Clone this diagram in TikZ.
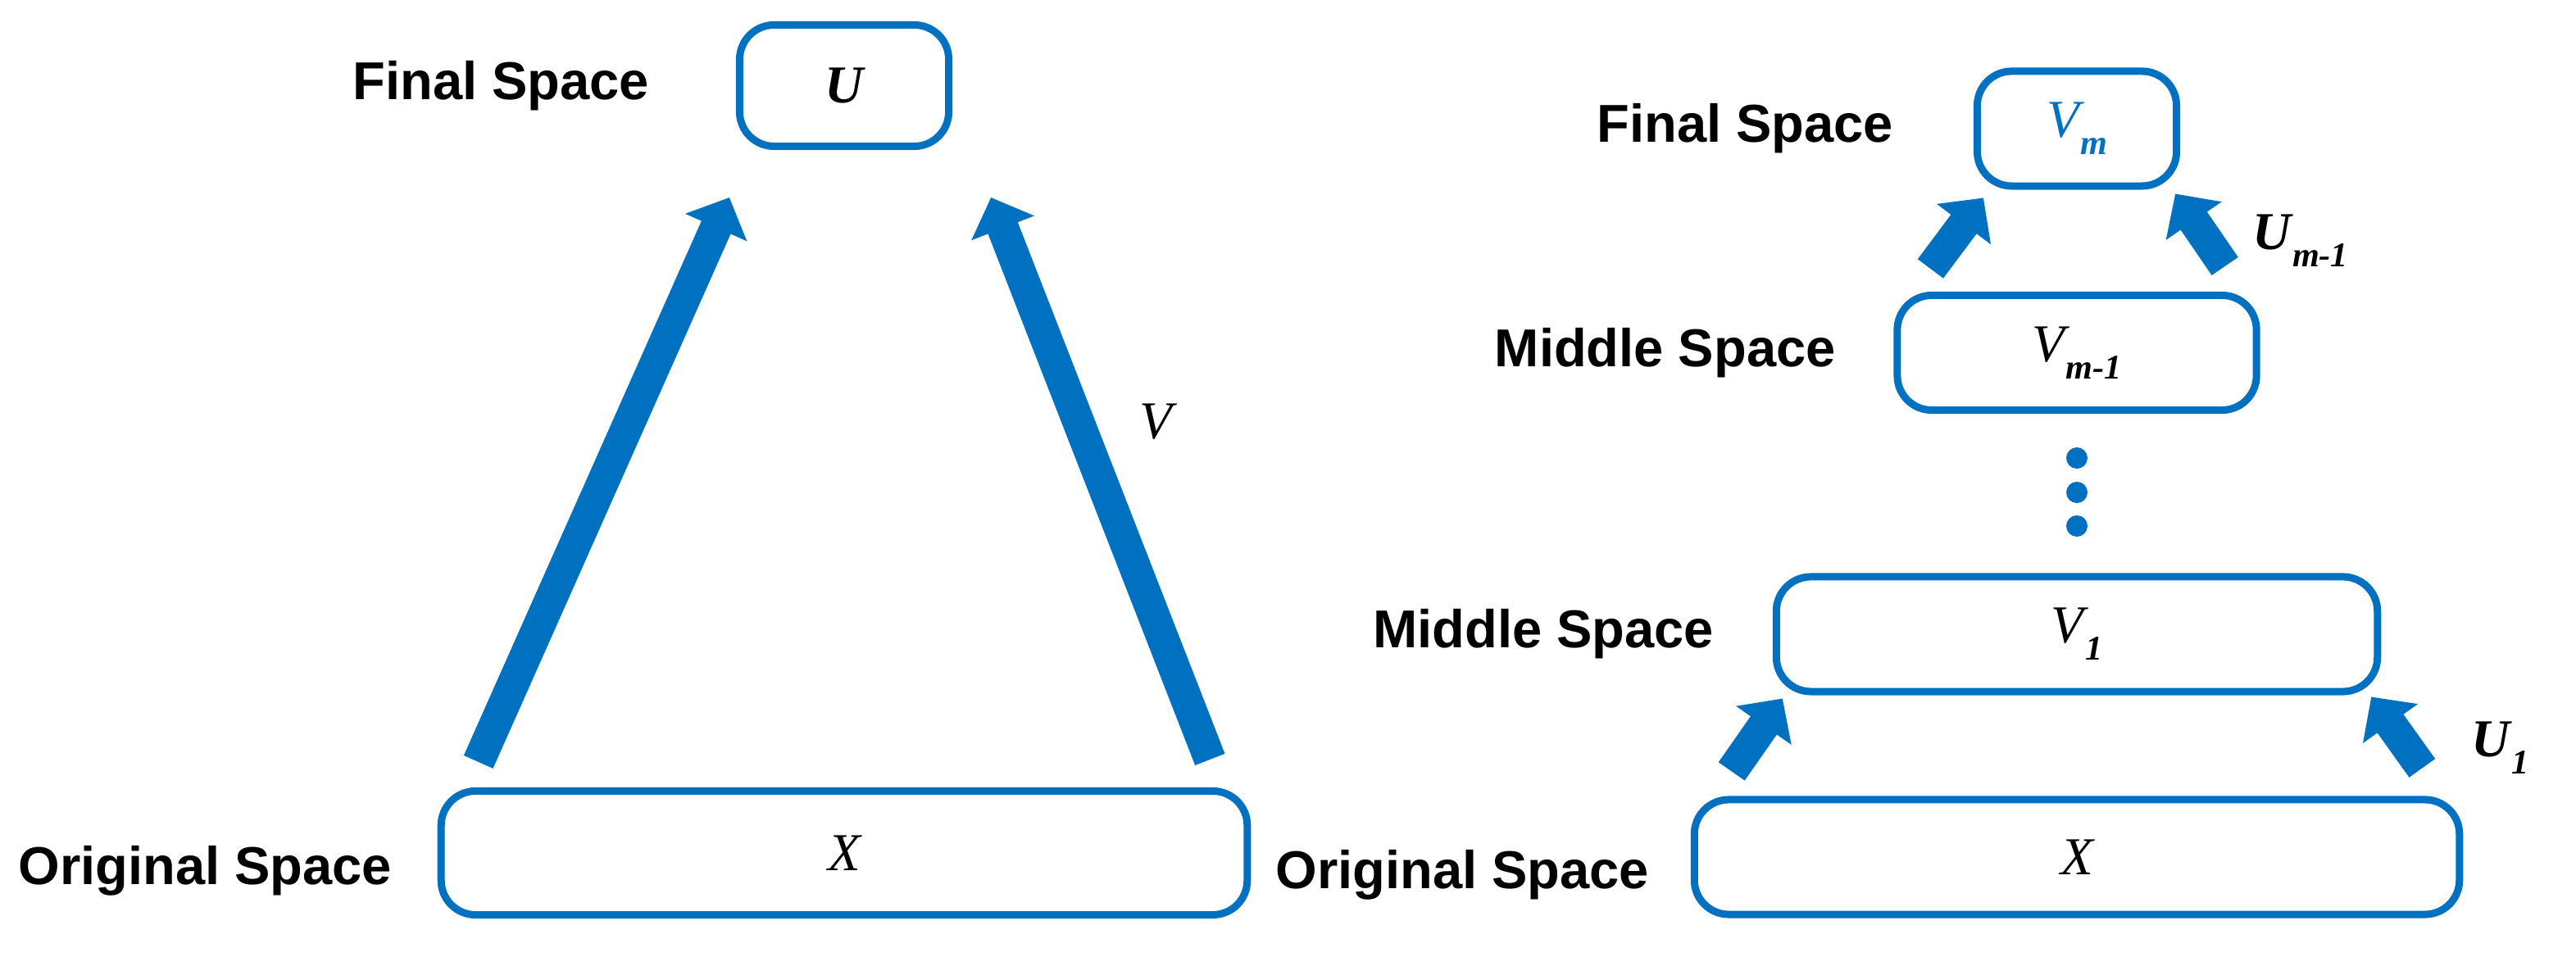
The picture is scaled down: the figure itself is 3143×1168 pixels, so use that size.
\documentclass[tikz,border=0pt]{standalone}
\usepackage{fontspec}
\setmainfont{Liberation Serif}
\newfontfamily\lblfont{Liberation Sans}
\usetikzlibrary{positioning,calc,arrows.meta}
\definecolor{spaceblue}{RGB}{0,112,192}
\newcommand{\mv}[1]{{\itshape #1}}
\newcommand{\mvb}[1]{{\bfseries\itshape #1}}
\newcommand{\lowsub}[1]{\kern0.02em\raisebox{-0.32em}{\fontsize{12}{12}\selectfont\bfseries\itshape #1}}
\tikzset{
spacebox/.style={draw=spaceblue, line width=0.09cm, rounded corners=0.42cm, minimum height=1.4cm, inner sep=0pt, font=\fontsize{18.5}{22}\selectfont},
spacename/.style={inner sep=0pt, font=\lblfont\bfseries\fontsize{18.5}{22}\selectfont},
maparrow/.style={spaceblue, line width=0.39cm, -{Triangle[length=0.4cm,width=0.8cm]}},
maplabel/.style={inner sep=0pt, anchor=base west, font=\fontsize{18.5}{22}\selectfont}
}
\begin{document}
\begin{tikzpicture}[x=0.01cm,y=-0.01cm]
\useasboundingbox (0,0) rectangle (3143,1168);
\node[spacebox, minimum width=2.55cm, minimum height=1.48cm] (U) at (1030,104.5) {\mvb{U}};
\node[spacebox, minimum width=9.83cm, minimum height=1.51cm] (X) at (1030,1041) {\mv{X}};
\node[spacename, left=1.05cm of U] (finalA) {Final Space};
\node[spacename, left=0.55cm of X, yshift=-0.22cm] (origA) {Original Space};
\draw[maparrow] ($(X.north west)+(50,-31)$) -- ($(U.south west)+(-8,58)$);
\draw[maparrow] ($(X.north east)+(-50,-34)$) -- ($(U.south east)+(47,58)$);
\node[maplabel] (labV) at (1390,536) {\mv{V}};

\node[spacebox, minimum width=2.43cm] (Vm) at (2534,157) {\textcolor{spaceblue}{\mv{V}\lowsub{m}}};
\node[spacebox, minimum width=4.38cm] (Vmm) at (2534,430.5) {\mv{V}\lowsub{m-1}};
\node[spacebox, minimum width=7.33cm] (V1) at (2534,774) {\mv{V}\lowsub{1}};
\node[spacebox, minimum width=9.33cm] (XB) at (2534,1046) {\mv{X}};
\node[spacename, left=0.97cm of Vm] (finalB) {Final Space};
\node[spacename, left=0.7cm of Vmm] (midB) {Middle Space};
\node[spacename, left=0.71cm of V1] (midA) {Middle Space};
\node[spacename, left=0.5cm of XB, yshift=-0.22cm] (origB) {Original Space};
\foreach \y in {559,601,642}{
	\fill[spaceblue] (2534,\y) circle (0.13cm);
}
\draw[maparrow] ($(Vmm.north west)+(45,-28)$) -- ($(Vm.south west)+(12,10)$);
\draw[maparrow] ($(Vmm.north east)+(-43,-31)$) -- ($(Vm.south east)+(-6,5)$);
\draw[maparrow] ($(XB.north west)+(50,-30)$) -- ($(V1.south west)+(12,4)$);
\draw[maparrow] ($(XB.north east)+(-50,-34)$) -- ($(V1.south east)+(-12,2)$);
\node[maplabel] (labUm) at (2748,305) {\mvb{U}\lowsub{m-1}};
\node[maplabel] (labU1) at (3015,924) {\mvb{U}\lowsub{1}};
\end{tikzpicture}
\end{document}
